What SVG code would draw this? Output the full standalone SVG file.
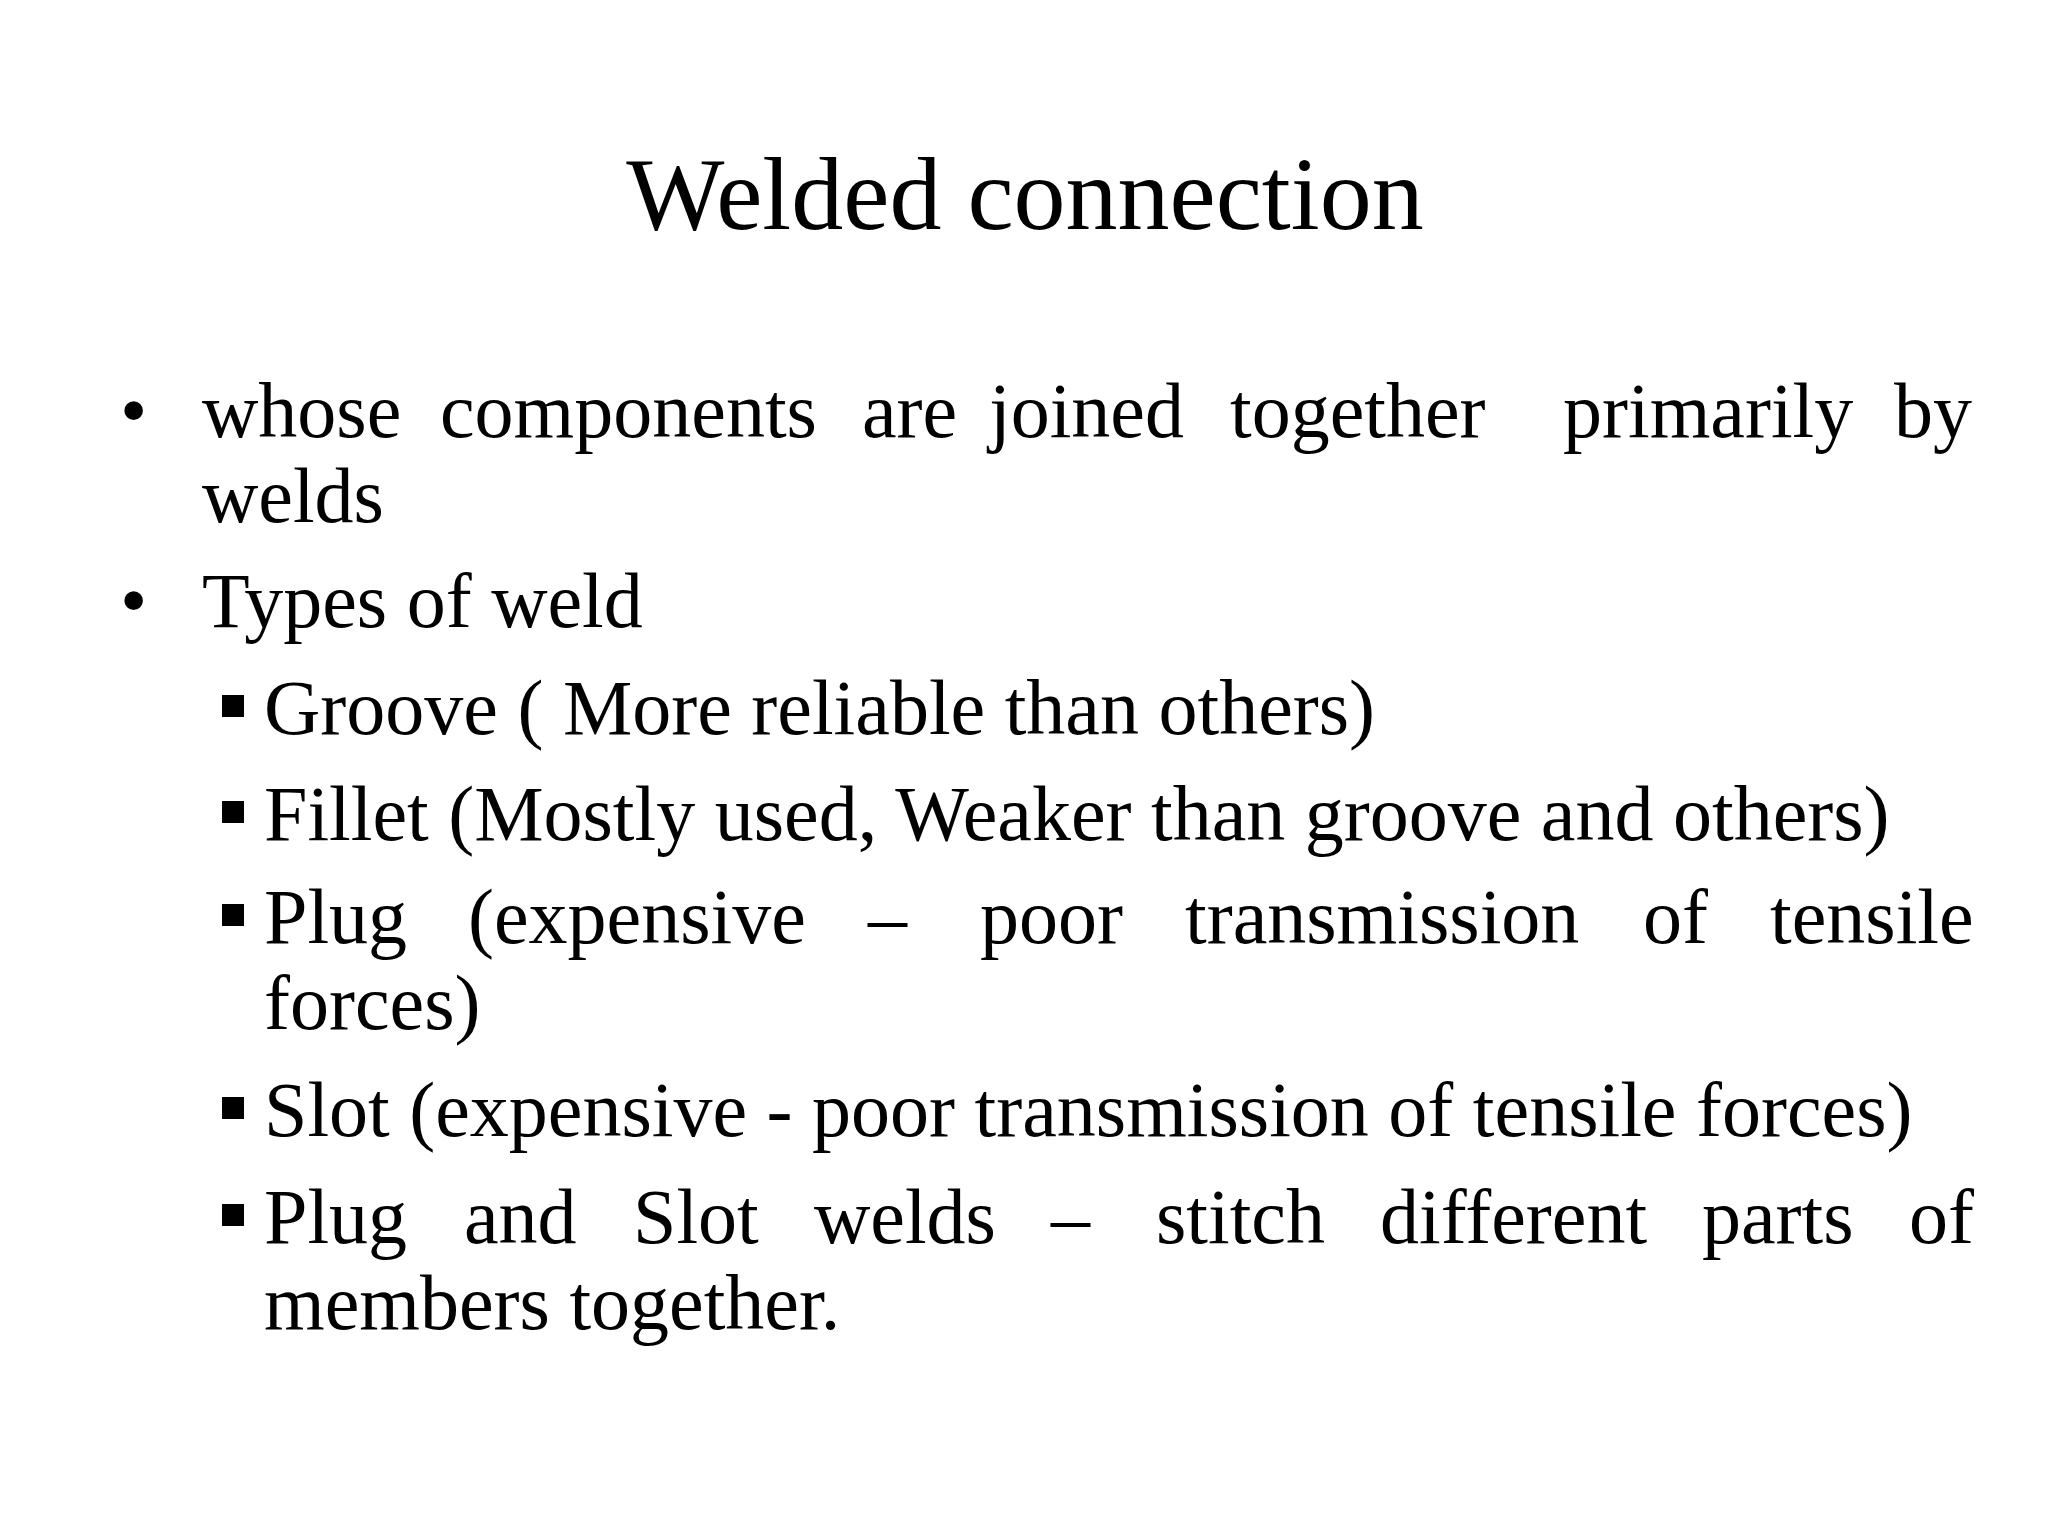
<svg xmlns="http://www.w3.org/2000/svg" width="2048" height="1536" viewBox="0 0 2048 1536">
<style>
text{font-family:"Liberation Serif","Times New Roman",serif;fill:#000}
.t{font-size:104px}
.b{font-size:78px}
</style>
<rect width="2048" height="1536" fill="#fff"/>
<text class="t" x="1025" y="229" text-anchor="middle">Welded connection</text>
<g id="bullet1">
<text class="b" x="120" y="437">•</text>
<text class="b" y="437"><tspan x="202">whose</tspan><tspan x="440">components</tspan><tspan x="862">are</tspan><tspan x="989">joined</tspan><tspan x="1230">together</tspan><tspan x="1563">primarily</tspan><tspan x="1894">by</tspan></text>
<text class="b" x="202" y="522">welds</text>
</g>
<g id="bullet2">
<text class="b" x="120" y="627">•</text>
<text class="b" x="202" y="627">Types of weld</text>
</g>
<g id="sub">
<rect x="222" y="695" width="22" height="22"/>
<text class="b" x="264" y="734">Groove ( More reliable than others)</text>
<rect x="222" y="801" width="22" height="22"/>
<text class="b" x="264" y="840">Fillet (Mostly used, Weaker than groove and  others)</text>
<rect x="222" y="904" width="22" height="22"/>
<text class="b" y="943"><tspan x="264">Plug</tspan><tspan x="468">(expensive</tspan><tspan x="868">–</tspan><tspan x="980">poor</tspan><tspan x="1185">transmission</tspan><tspan x="1643">of</tspan><tspan x="1770">tensile</tspan></text>
<text class="b" x="264" y="1029">forces)</text>
<rect x="222" y="1097" width="22" height="22"/>
<text class="b" x="264" y="1136">Slot (expensive - poor transmission of tensile  forces)</text>
<rect x="222" y="1204" width="22" height="22"/>
<text class="b" y="1243"><tspan x="264">Plug</tspan><tspan x="464">and</tspan><tspan x="633">Slot</tspan><tspan x="814">welds</tspan><tspan x="1051">–</tspan><tspan x="1156">stitch</tspan><tspan x="1380">different</tspan><tspan x="1702">parts</tspan><tspan x="1909">of</tspan></text>
<text class="b" x="264" y="1329">members together.</text>
</g>
</svg>
